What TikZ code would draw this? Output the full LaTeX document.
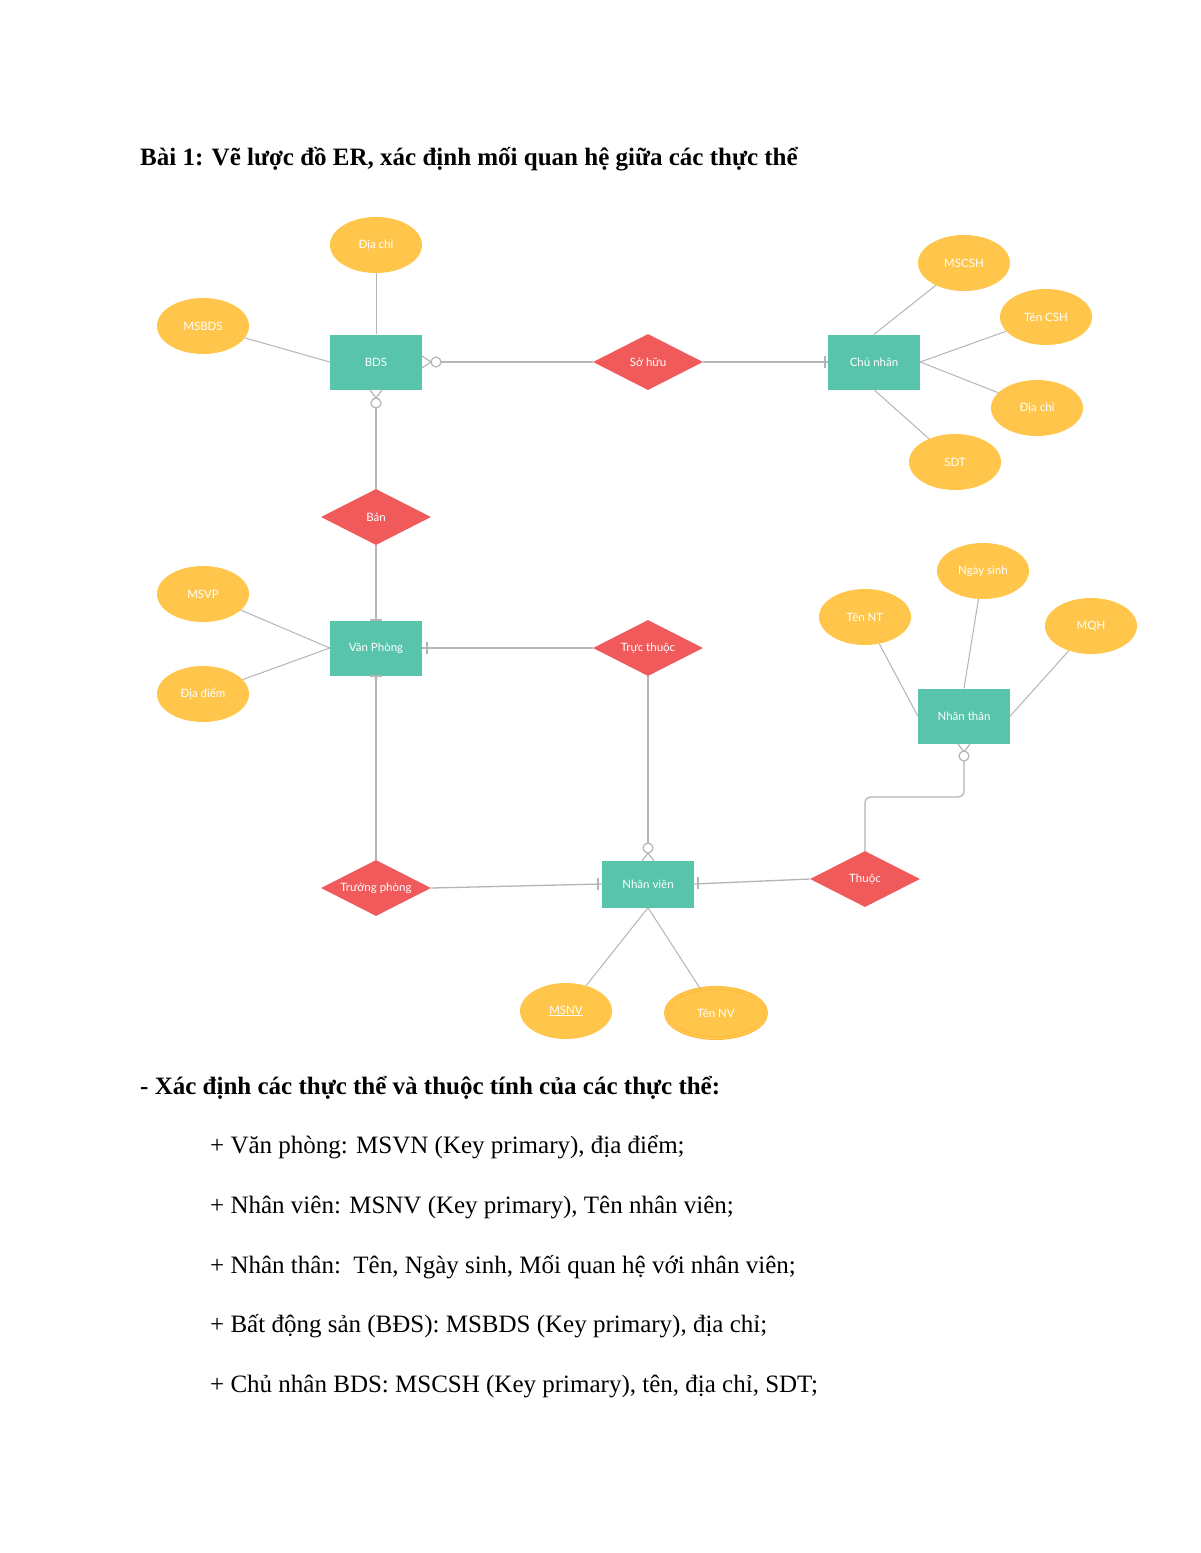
\documentclass[tikz,border=0pt]{standalone}
\usepackage{fontspec}
\setmainfont{Liberation Serif}
\newfontfamily\lab{Lato}
\usetikzlibrary{shapes.geometric}
\begin{document}
\begin{tikzpicture}[x=1pt,y=-1pt,
  ent/.style={fill=ecol,minimum width=92pt,minimum height=55pt,text=white,font=\lab\fontsize{11.5}{12}\selectfont,inner sep=0},
  rel/.style={diamond,fill=rcol,minimum width=110pt,minimum height=56pt,text=white,font=\lab\fontsize{11.5}{12}\selectfont,inner sep=0,aspect=2},
  att/.style={ellipse,fill=acol,minimum width=92pt,minimum height=56pt,text=white,font=\lab\fontsize{11.5}{12}\selectfont,inner sep=0},
  ln/.style={draw=lcol,line width=1.3pt},
  mk/.style={draw=lcol,line width=1.2pt,fill=white}]
\definecolor{ecol}{HTML}{57C4AB}
\definecolor{rcol}{HTML}{F05A5B}
\definecolor{acol}{HTML}{FFC64B}
\definecolor{lcol}{HTML}{B5B5B5}
\useasboundingbox[fill=white] (0,0) rectangle (1200,1553);
\node[anchor=base west,inner sep=0,font=\bfseries\fontsize{25}{28}\selectfont] (title) at (140,165) {Bài 1: Vẽ lược đồ ER, xác định mối quan hệ giữa các thực thể};
% entities
\node[ent] (bds) at (376,362) {BDS};
\node[ent] (cn) at (874,362) {Chủ nhân};
\node[ent] (vp) at (376,648) {Văn Phòng};
\node[ent,minimum height=47pt] (nv) at (648,884) {Nhân viên};
\node[ent] (nt) at (964,716) {Nhân thân};
% relations
\node[rel] (sh) at (648,362) {Sở hữu};
\node[rel] (ban) at (376,517) {Bán};
\node[rel] (tt) at (648,648) {Trực thuộc};
\node[rel] (tp) at (376,888) {Trưởng phòng};
\node[rel] (th) at (865,879) {Thuộc};
% attributes
\node[att] (dc1) at (376,245) {Địa chỉ};
\node[att] (msbds) at (203,326) {MSBDS};
\node[att] (mscsh) at (964,263) {MSCSH};
\node[att] (tcsh) at (1046,317) {Tên CSH};
\node[att] (dc2) at (1037,408) {Địa chỉ};
\node[att] (sdt) at (955,462) {SDT};
\node[att] (msvp) at (203,594) {MSVP};
\node[att] (dd) at (203,694) {Địa điểm};
\node[att] (tnt) at (865,617) {Tên NT};
\node[att] (ns) at (983,571) {Ngày sinh};
\node[att] (mqh) at (1091,626) {MQH};
\node[att] (msnv) at (566,1011) {\underline{MSNV}};
\node[att,minimum width=100pt,minimum height=50pt,draw=acol!85!orange,line width=1pt,double=acol,double distance=2pt] (tnv) at (716,1013) {Tên NV};
% attribute lines
\begin{scope}[ln,line width=1pt]
\draw (dc1) -- (bds);
\draw (msbds) -- (bds.west);
\draw (cn.north) -- (mscsh);
\draw (cn.east) -- (tcsh);
\draw (cn.east) -- (dc2);
\draw (cn.south) -- (sdt);
\draw (msvp) -- (vp.west);
\draw (dd) -- (vp.west);
\draw (nt.west) -- (tnt);
\draw (nt.north) -- (ns);
\draw (nt.east) -- (mqh);
\draw (nv.south) -- (msnv);
\draw (nv.south) -- (tnv);
\end{scope}
% relation lines
\draw[ln] (sh) -- (cn);
\draw[ln] (sh) -- (441,362);
\draw[ln] (ban) -- (376,408);
\draw[ln] (ban) -- (vp);
\draw[ln] (tt) -- (vp);
\draw[ln] (tt) -- (648,852);
\draw[ln] (tp) -- (vp);
\draw[ln] (tp.east) -- (nv.west);
\draw[ln] (th.west) -- (nv.east);
\draw[ln,rounded corners=6pt] (th.north) -- (865,797) -- (964,797) -- (964,761);
% markers
\draw[mk,fill=none] (422,356) -- (431,362) -- (422,368);
\draw[mk] (436,362) circle (5);
\draw[mk,fill=none] (370,390) -- (376,398) -- (382,390);
\draw[mk] (376,403) circle (5);
\draw[mk] (825,356) -- (825,368);
\draw[mk] (370,620) -- (382,620);
\draw[mk] (427,642) -- (427,654);
\draw[mk] (370,676) -- (382,676);
\draw[mk,fill=none] (642,861) -- (648,853) -- (654,861);
\draw[mk] (648,848) circle (5);
\draw[mk] (598,878) -- (598,890);
\draw[mk] (698,877) -- (698,889);
\draw[mk,fill=none] (958,744) -- (964,752) -- (970,744);
\draw[mk] (964,756) circle (5);
% text
\begin{scope}[every node/.style={anchor=base west,inner sep=0,font=\fontsize{25}{28}\selectfont}]
\node[font=\bfseries\fontsize{25}{28}\selectfont] (h2) at (140,1094) {- Xác định các thực thể và thuộc tính của các thực thể:};
\node (l1) at (210,1153) {+ Văn phòng: MSVN (Key primary), địa điểm;};
\node (l2) at (210,1213) {+ Nhân viên: MSNV (Key primary), Tên nhân viên;};
\node (l3) at (210,1273) {+ Nhân thân:\ \ Tên, Ngày sinh, Mối quan hệ với nhân viên;};
\node (l4) at (210,1332) {+ Bất động sản (BĐS): MSBDS (Key primary), địa chỉ;};
\node (l5) at (210,1392) {+ Chủ nhân BDS: MSCSH (Key primary), tên, địa chỉ, SDT;};
\end{scope}
\end{tikzpicture}
\end{document}
